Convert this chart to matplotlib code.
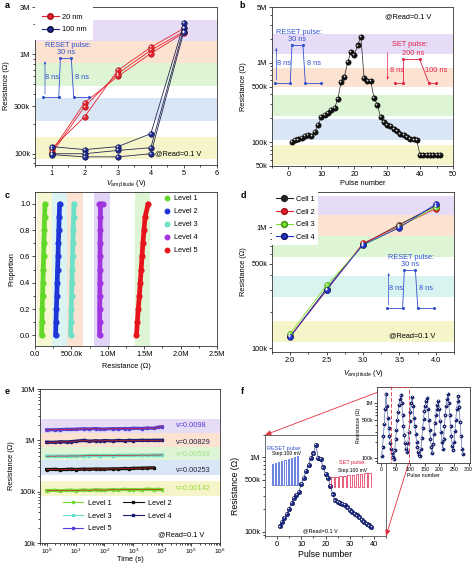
import numpy as np
import matplotlib
matplotlib.use("Agg")
import matplotlib.pyplot as plt
from matplotlib.lines import Line2D
from matplotlib.patches import ConnectionPatch, Rectangle
from matplotlib.transforms import ScaledTranslation, blended_transform_factory
from matplotlib.ticker import LogLocator, NullFormatter, MultipleLocator

plt.rcParams["font.family"] = ["Liberation Sans", "DejaVu Sans"]
plt.rcParams["font.size"] = 5.3
plt.rcParams["mathtext.fontset"] = "custom"
plt.rcParams["mathtext.rm"] = "Liberation Sans"
plt.rcParams["mathtext.it"] = "Liberation Sans:italic"
plt.rcParams["axes.linewidth"] = 0.6
plt.rcParams["axes.edgecolor"] = "#333333"

# ---- data ----
# a: resistance vs pulse amplitude
a_volt = [1, 2, 3, 4, 5]
a_20nm = [[105e3, 327e3, 600e3, 1.02e6, 1.65e6],
          [100e3, 298e3, 640e3, 1.10e6, 1.70e6],
          [112e3, 236e3, 690e3, 1.18e6, 1.83e6]]
a_100nm = [[118e3, 110e3, 118e3, 159e3, 2.05e6],
           [100e3, 100e3, 108e3, 115e3, 1.85e6],
           [98e3, 93e3, 93e3, 100e3, 1.70e6]]

# b: resistance vs pulse number (k-ohm)
b_pulse = list(range(1, 47))
b_res_k = [100, 105, 108, 113, 118, 124, 119, 134, 163, 207, 218, 235, 252, 270,
           347, 575, 664, 1010, 1370, 1250, 1640, 2100,
           634, 585, 585, 360, 296, 207, 179, 165, 159, 147, 137, 127, 122, 116,
           110, 108, 105,
           68, 68, 68, 68, 68, 68, 68]

# c: cumulative distribution of 5 levels (k-ohm)
c_prop = [0.0, 0.1, 0.2, 0.3, 0.4, 0.5, 0.6, 0.7, 0.8, 0.9, 1.0]
c_level1 = [91, 95, 100, 104, 109, 113, 118, 122, 127, 132, 137]
c_level2 = [283, 288, 294, 299, 305, 310, 316, 321, 327, 332, 338]
c_level3 = [489, 493, 498, 502, 507, 512, 516, 521, 526, 530, 535]
c_level4 = [887, 888, 889, 890, 891, 893, 894, 895, 897, 898, 900]
c_level5 = [1394, 1405, 1418, 1433, 1446, 1458, 1470, 1482, 1497, 1512, 1554]
c_level4_top = [878, 937]
c_labels = ["Level 1", "Level 2", "Level 3", "Level 4", "Level 5"]

# d: four cells
d_volt = [2.0, 2.5, 3.0, 3.5, 4.0]
d_cell1 = [125e3, 310e3, 725e3, 1.05e6, 1.50e6]
d_cell2 = [125e3, 300e3, 735e3, 1.02e6, 1.42e6]
d_cell3 = [132e3, 331e3, 705e3, 1.00e6, 1.47e6]
d_cell4 = [124e3, 305e3, 715e3, 0.99e6, 1.55e6]

# e: retention (k-ohm)
e_time = [1, 2, 3, 5, 7, 10, 20, 30, 50, 70, 100, 200, 300, 500, 700,
          1e3, 2e3, 3e3, 5e3, 7e3, 1e4]
e_level1 = [105, 106, 104, 106, 107, 105, 108, 106, 109, 108, 107, 110, 108,
            111, 109, 110, 109, 112, 110, 111, 110]
e_level2 = [270, 272, 268, 271, 274, 270, 275, 273, 277, 276, 275, 279, 278,
            283, 281, 285, 287, 290, 292]
e_level3 = [490, 492, 495, 493, 497, 495, 500, 505, 510, 503, 508, 505, 512,
            509, 513, 510, 515, 512, 518, 515, 520]
e_level4 = [920, 915, 940, 930, 945, 960, 1000, 960, 985, 970, 990, 975, 995,
            980, 1000, 990, 1000, 995, 1000, 1000, 1005]
e_level5 = [1600, 1610, 1620, 1640, 1630, 1650, 1680, 1660, 1700, 1670, 1660,
            1690, 1680, 1700, 1690, 1720, 1700, 1740, 1720, 1800, 1850]
e_nu = ["ν=0.00142", "ν=0.00253", "ν=0.00539", "ν=0.00829", "ν=0.0098"]
e_nu_y = [113e3, 255e3, 520e3, 920e3, 1.98e6]

# f: one cycle (k-ohm) and the long run shown in the inset
f_pulse = list(range(1, 40))
f_res_k = [117, 134, 152, 172, 204, 244, 285, 310, 340, 442, 533, 656, 800, 985,
           1130, 1480, 985, 950, 730, 605, 533, 410, 316, 262, 251, 244, 236,
           226, 212, 197, 184, 172, 165, 155, 144, 134, 126, 121, 116]
f_in_res_k = [110, 160, 250, 420, 800, 1450, 900, 550, 350, 250, 190, 150, 125, 105, 95,
              140, 220, 330, 500, 700, 950, 1200, 1400, 1000, 600, 380, 260, 190, 150, 130,
              190, 300, 480, 700, 1000, 1300, 900, 550, 380, 280, 200, 160, 130, 115, 108,
              150, 230, 350, 520, 720, 900, 1100, 1250, 800, 500, 330, 220, 160, 125,
              180, 280, 430, 620, 800, 950, 1100, 800, 480, 300, 200, 150,
              220, 380, 600, 900, 1200, 1500, 1000, 600, 380, 250, 170, 140,
              200, 320, 500, 800, 1100, 1350, 850, 450, 250, 150, 120]
f_in_pulse = np.arange(len(f_in_res_k)) * 3 + 1

# shaded resistance windows
PURPLE, ORANGE, GREEN = "#e6dcf6", "#fbe2d1", "#ddf5d4"
BLUE, YELLOW, TEAL = "#d8e6f6", "#f5f5c9", "#d9f3f0"
a_bands = [(89e3, 148e3, YELLOW), (215e3, 360e3, BLUE), (486e3, 810e3, GREEN),
           (810e3, 1.35e6, ORANGE), (1.35e6, 2.2e6, PURPLE)]
b_bands = [(51e3, 92e3, YELLOW), (106e3, 196e3, BLUE), (213e3, 394e3, GREEN),
           (500e3, 865e3, ORANGE), (1.3e6, 2.3e6, PURPLE)]
c_bands = [(23e3, 238e3, "#f6f6d2"), (238e3, 443e3, "#dcf3f3"), (443e3, 663e3, ORANGE),
           (809e3, 1.024e6, "#e2d4f7"), (1.367e6, 1.586e6, GREEN)]
d_bands = [(113e3, 168e3, YELLOW), (265e3, 394e3, TEAL), (568e3, 850e3, GREEN),
           (850e3, 1.26e6, ORANGE), (1.26e6, 1.8e6, PURPLE)]
e_bands = [(82e3, 164e3, YELLOW), (214e3, 413e3, BLUE), (413e3, 740e3, GREEN),
           (740e3, 1.37e6, ORANGE), (1.37e6, 2.65e6, PURPLE)]

RED = "#e8222c"
NAVY = "#1f2a8e"
PBLUE = "#3050d0"
PRED = "#e0204a"

fig = plt.figure(figsize=(4.74, 5.66), dpi=100)


def add_ax(l, t, r, b):
    return fig.add_axes([l / 474, 1 - b / 566, (r - l) / 474, (b - t) / 566])


def style(ax, size=5.3):
    ax.tick_params(which="both", direction="out", width=0.5, labelsize=size, pad=1.2)
    ax.tick_params(which="major", length=2.2)
    ax.tick_params(which="minor", length=1.3)


def log_y(ax, lo, hi, ticks, labels):
    ax.set_yscale("log")
    ax.set_ylim(lo, hi)
    ax.set_yticks(ticks, labels)
    ax.yaxis.set_minor_locator(LogLocator(subs=np.arange(2, 10)))
    ax.yaxis.set_minor_formatter(NullFormatter())


def sphere(ax, x, y, color, edge, ms, lc=None, lw=0.6, z=3):
    line, = ax.plot(x, y, "-", color=lc or color, lw=lw, marker="o", ms=ms,
                    mfc=color, mec=edge, mew=0.4, zorder=z)
    off = ScaledTranslation(-ms * 0.17 / 72, ms * 0.17 / 72, fig.dpi_scale_trans)
    ax.plot(x, y, ls="none", marker="o", ms=ms * 0.33, mfc="white", mec="none",
            alpha=0.85, transform=ax.transData + off, zorder=z + 0.1)
    return line


def reset_pulse(ax, x0, y0, w, h, color):
    X = lambda u: x0 + u * w
    Y = lambda v: y0 + v * h
    kw = dict(color=color, lw=0.6, transform=ax.transAxes, zorder=4)
    dots = dict(kw, marker="o", ms=1.2)
    ax.plot([X(0), X(0.336)], [Y(0), Y(0)], **dots)
    ax.plot([X(0.66), X(1)], [Y(0), Y(0)], **dots)
    ax.plot([X(0.371), X(0.609)], [Y(1), Y(1)], **dots)
    ax.plot([X(0.336), X(0.371)], [Y(0), Y(1)], **kw)
    ax.plot([X(0.609), X(0.66)], [Y(1), Y(0)], **kw)
    ax.annotate("", xy=(X(0.035), Y(1.0)), xytext=(X(0.035), Y(0)),
                xycoords="axes fraction",
                arrowprops=dict(arrowstyle="-|>,head_length=0.25,head_width=0.1",
                                color=color, lw=0.5))
    ax.text(X(0.03), Y(1.34), "RESET pulse:", color=color, transform=ax.transAxes,
            ha="left", va="center")
    ax.text(X(0.49), Y(1.15), "30 ns", color=color, transform=ax.transAxes,
            ha="center", va="center")
    ax.text(X(0.19), Y(0.5), "8 ns", color=color, transform=ax.transAxes,
            ha="center", va="center")
    ax.text(X(0.84), Y(0.5), "8 ns", color=color, transform=ax.transAxes,
            ha="center", va="center")


def bands(ax, spans, vertical=False):
    for lo, hi, c in spans:
        if vertical:
            ax.axvspan(lo, hi, color=c, lw=0, zorder=0)
        else:
            ax.axhspan(lo, hi, color=c, lw=0, zorder=0)


# ---------------- a ----------------
ax = add_ax(35, 7, 217, 165)
bands(ax, a_bands)
for r in a_20nm:
    sphere(ax, a_volt, r, RED, "#a0121a", 4.0, lc=RED)
for r in a_100nm:
    sphere(ax, a_volt, r, NAVY, "#0b1040", 4.0, lc="#2a2a55")
ax.set_xlim(0.5, 6)
ax.set_xticks(range(1, 7))
ax.xaxis.set_minor_locator(MultipleLocator(0.5))
log_y(ax, 77e3, 3e6, [1e5, 3e5, 1e6, 3e6], ["100k", "300k", "1M", "3M"])
style(ax)
ax.set_xlabel(r"$\mathit{V}_{\mathrm{amplitude}}$ (V)", labelpad=1)
ax.set_ylabel("Resistance (Ω)", labelpad=3)
h = [Line2D([], [], color=RED, lw=0.8, marker="o", ms=4, mfc=RED, mec="#a0121a"),
     Line2D([], [], color=NAVY, lw=0.8, marker="o", ms=4, mfc=NAVY, mec="#0b1040")]
ax.legend(h, ["20 nm", "100 nm"], loc="upper left", bbox_to_anchor=(0, 1),
          borderaxespad=0, frameon=True, fancybox=False, edgecolor="none",
          facecolor="white", framealpha=1, handlelength=2.3, borderpad=0.9,
          labelspacing=0.75, handletextpad=0.4)
ax.text(0.66, 0.07, "@Read=0.1 V", transform=ax.transAxes, va="center")
reset_pulse(ax, 0.046, 0.432, 0.252, 0.243, PBLUE)

# ---------------- b ----------------
ax = add_ax(272, 7, 453, 166)
bands(ax, b_bands)
sphere(ax, b_pulse, [v * 1e3 for v in b_res_k], "#111111", "#000000", 3.8, lc="#222222", lw=0.5)
ax.set_xlim(-5, 50)
ax.set_xticks(range(0, 51, 10))
ax.xaxis.set_minor_locator(MultipleLocator(5))
log_y(ax, 50e3, 5e6, [5e4, 1e5, 5e5, 1e6, 5e6], ["50k", "100k", "500k", "1M", "5M"])
style(ax)
ax.set_xlabel("Pulse number", labelpad=1.5)
ax.set_ylabel("Resistance (Ω)", labelpad=3)
ax.text(0.626, 0.939, "@Read=0.1 V", transform=ax.transAxes, va="center")
reset_pulse(ax, 0.015, 0.524, 0.256, 0.237, PBLUE)
# SET pulse sketch
kw = dict(color=PRED, lw=0.6, transform=ax.transAxes, zorder=4)
dots = dict(kw, marker="o", ms=1.2)
ax.plot([0.681, 0.721], [0.524, 0.524], **dots)
ax.plot([0.721, 0.721], [0.524, 0.671], **kw)
ax.plot([0.721, 0.816], [0.671, 0.671], **dots)
ax.plot([0.816, 0.866], [0.671, 0.524], **kw)
ax.plot([0.866, 0.906], [0.524, 0.524], **dots)
ax.annotate("", xy=(0.639, 0.524), xytext=(0.639, 0.73), xycoords="axes fraction",
            arrowprops=dict(arrowstyle="-|>,head_length=0.25,head_width=0.1",
                            color=PRED, lw=0.5))
ax.text(0.76, 0.765, "SET pulse:", color=PRED, transform=ax.transAxes, ha="center", va="center")
ax.text(0.779, 0.709, "200 ns", color=PRED, transform=ax.transAxes, ha="center", va="center")
ax.text(0.69, 0.6, "8 ns", color=PRED, transform=ax.transAxes, ha="center", va="center")
ax.text(0.905, 0.6, "100 ns", color=PRED, transform=ax.transAxes, ha="center", va="center")

# ---------------- c ----------------
ax = add_ax(35, 192, 217, 346)
bands(ax, c_bands, vertical=True)
c_colors = ["#62d82a", "#1e36d8", "#6fe0c8", "#a234e0", "#e8141c"]
c_data = [c_level1, c_level2, c_level3, c_level4, c_level5]
for vals, col in zip(c_data, c_colors):
    xs = [v * 1e3 for v in vals]
    ax.plot(xs, c_prop, "-", color=col, lw=3.4, solid_capstyle="round", zorder=3)
    ax.plot(xs, c_prop, "o", color=col, ms=3.4, zorder=3)
ax.plot([v * 1e3 for v in c_level4_top], [1.0, 1.0], "o", color=c_colors[3], ms=3.4, zorder=3)
ax.set_xlim(0, 2.5e6)
ax.set_xticks([0, 0.5e6, 1e6, 1.5e6, 2e6, 2.5e6],
              ["0.0", "500.0k", "1.0M", "1.5M", "2.0M", "2.5M"])
ax.xaxis.set_minor_locator(MultipleLocator(0.25e6))
ax.set_ylim(-0.08, 1.09)
ax.set_yticks(np.arange(0, 1.01, 0.2), ["0.0", "0.2", "0.4", "0.6", "0.8", "1.0"])
ax.yaxis.set_minor_locator(MultipleLocator(0.1))
style(ax)
ax.set_xlabel("Resistance (Ω)", labelpad=4)
ax.set_ylabel("Proportion", labelpad=3)
h = [Line2D([], [], ls="none", marker="o", color=c, ms=3.2) for c in c_colors]
ax.legend(h, c_labels, loc="upper left", bbox_to_anchor=(0.69, 1.0), frameon=False,
          borderaxespad=0, handlelength=1.0, handletextpad=0.4, labelspacing=0.8)

# ---------------- d ----------------
ax = add_ax(272, 192, 454, 352)
bands(ax, d_bands)
d_style = [("#222222", "#222222", d_cell1), (RED, "#a0121a", d_cell2),
           ("#7ae030", "#3c8a10", d_cell3), ("#2233d0", "#0b1060", d_cell4)]
for col, edge, vals in d_style:
    sphere(ax, d_volt, vals, col, edge, 4.2, lc=col, lw=0.6)
ax.set_xlim(1.75, 4.25)
ax.set_xticks([2.0, 2.5, 3.0, 3.5, 4.0], ["2.0", "2.5", "3.0", "3.5", "4.0"])
ax.xaxis.set_minor_locator(MultipleLocator(0.25))
log_y(ax, 93e3, 1.95e6, [1e5, 5e5, 1e6], ["100k", "500k", "1M"])
style(ax)
ax.set_xlabel(r"$\mathit{V}_{\mathrm{amplitude}}$ (V)", labelpad=3)
ax.set_ylabel("Resistance (Ω)", labelpad=3)
h = [Line2D([], [], color=c, lw=0.8, marker="o", ms=4.2, mfc=c, mec=e)
     for c, e, _ in d_style]
ax.legend(h, ["Cell 1", "Cell 2", "Cell 3", "Cell 4"], loc="upper left", bbox_to_anchor=(0, 1),
          borderaxespad=0, frameon=True, fancybox=False, edgecolor="none",
          facecolor="white", framealpha=1, handlelength=2.3, borderpad=0.5,
          labelspacing=0.75, handletextpad=0.4)
ax.text(0.641, 0.10, "@Read=0.1 V", transform=ax.transAxes, va="center")
reset_pulse(ax, 0.632, 0.277, 0.256, 0.235, PBLUE)

# ---------------- e ----------------
ax = add_ax(40, 389, 220, 543)
bands(ax, e_bands)
e_colors = ["#72d836", "#111111", "#66dcc8", "#1c1c70", "#5a3ed8"]
e_data = [e_level1, e_level2, e_level3, e_level4, e_level5]
for vals, col in zip(e_data, e_colors):
    t = e_time[:len(vals)]
    r = [v * 1e3 for v in vals]
    ax.plot(t, r, "-", color=col, lw=2.3, marker="s", ms=1.6, zorder=2)
    ax.plot(t, r, "-", color="#c8241e", lw=0.5, zorder=3)
nu_cols = ["#9ad83a", "#222244", "#a8e08a", "#222244", "#5a3ed8"]
for s, y, c in zip(e_nu, e_nu_y, nu_cols):
    ax.text(2.8e4, y, s, color=c, va="center", ha="left")
ax.set_xscale("log")
ax.set_xlim(0.59, 1e6)
ax.set_xticks([10.0 ** k for k in range(7)],
              [r"$10^{%d}$" % k for k in range(7)])
ax.xaxis.set_minor_locator(LogLocator(subs=np.arange(2, 10)))
ax.xaxis.set_minor_formatter(NullFormatter())
log_y(ax, 1e4, 1e7, [1e4, 1e5, 1e6, 1e7], ["10k", "100k", "1M", "10M"])
style(ax)
ax.tick_params(axis="x", labelsize=4.6, pad=0.5)
ax.set_xlabel("Time (s)", labelpad=0.3)
ax.set_ylabel("Resistance (Ω)", labelpad=3)
h = [Line2D([], [], color=c, lw=0.8, marker="s", ms=1.6) for c in e_colors]
order = [0, 2, 4, 1, 3]
ax.legend([h[i] for i in order], [c_labels[i] for i in order], loc="upper left",
          bbox_to_anchor=(0.11, 0.30), ncol=2, frameon=False, borderaxespad=0,
          handlelength=2.8, handletextpad=0.6, columnspacing=1.6, labelspacing=0.75)
ax.text(0.657, 0.051, "@Read=0.1 V", transform=ax.transAxes, va="center")

# ---------------- f ----------------
axf = add_ax(265, 435, 386, 536)
sphere(axf, f_pulse, [v * 1e3 for v in f_res_k], "#1c2a8a", "#0a1040", 3.2, lc="#3b4aa0", lw=0.5)
axf.set_xlim(-5, 45)
axf.set_xticks(range(0, 41, 10))
axf.xaxis.set_minor_locator(MultipleLocator(5))
log_y(axf, 87e3, 2.0e6, [1e5, 5e5, 1e6], ["100k", "500k", "1M"])
style(axf)
for sp in axf.spines.values():
    sp.set_color("#555555")
axf.set_xlabel("Pulse number", fontsize=6.3, labelpad=1.5)
axf.set_ylabel("Resistance (Ω)", fontsize=6.3, labelpad=3)
axf.text(0.317, 0.055, "@Read=0.1 V", transform=axf.transAxes, va="center", fontsize=4)
# RESET pulse train
tr = axf.transAxes
axf.text(0.014, 0.864, "RESET pulse:", color=PBLUE, transform=tr, fontsize=4, va="center")
axf.text(0.055, 0.813, "Step:100 mV", color="black", transform=tr, fontsize=3.6, va="center")
xs, ys = [], []
for i in range(9):
    x0 = 0.055 + i * 0.0265
    top = 0.716 + i * 0.0092
    xs += [x0, x0, x0 + 0.009, x0 + 0.009, x0 + 0.0265]
    ys += [0.505, top, top, 0.505, 0.505]
axf.plot(xs[:-1], ys[:-1], color=PBLUE, lw=0.5, transform=tr, zorder=4)
# SET pulse train
axf.text(0.61, 0.725, "SET pulse:", color=PRED, transform=tr, fontsize=4, va="center")
axf.text(0.603, 0.644, "Step:100 mV", color="black", transform=tr, fontsize=3.6, va="center")
xs, ys = [], []
for i in range(10):
    x0 = 0.545 + i * 0.034
    top = 0.58 + i * 0.0053
    xs += [x0, x0, x0 + 0.022, x0 + 0.022, x0 + 0.034]
    ys += [0.482, top, top, 0.482, 0.482]
axf.plot(xs[:-1], ys[:-1], color=PRED, lw=0.5, transform=tr, zorder=4)

axi = add_ax(377, 387, 470, 463)
axi.set_zorder(5)
axi.patch.set_facecolor("white")
sphere(axi, f_in_pulse, [v * 1e3 for v in f_in_res_k], "#1c2a8a", "#0a1040", 2.3,
       lc="#3b4aa0", lw=0.4)
axi.set_xlim(-15, 305)
axi.set_xticks(range(0, 301, 50))
log_y(axi, 82e3, 1.98e6, [1e5, 5e5, 1e6], ["100k", "500k", "1M"])
style(axi, size=3.8)
axi.tick_params(which="both", pad=0.6)
axi.set_xlabel("Pulse number", fontsize=3.8, labelpad=0.5)
axi.set_ylabel("Resistance (Ω)", fontsize=3.8, labelpad=0.5)
bt = blended_transform_factory(axi.transData, axi.transAxes)
axi.add_patch(Rectangle((34, 0.0), 60, 1.0, transform=bt, fill=False,
                        ec="#e04a5a", lw=0.7, ls=(0, (4, 2)), zorder=6))
con1 = ConnectionPatch(xyA=(34, 1.0), coordsA=bt, xyB=(0.0, 1.0), coordsB=axf.transAxes,
                       arrowstyle="-|>,head_length=0.35,head_width=0.15", color="#e0303a", lw=0.6)
con2 = ConnectionPatch(xyA=(94, 0.0), coordsA=bt, xyB=(1.0, 0.0), coordsB=axf.transAxes,
                       arrowstyle="-|>,head_length=0.35,head_width=0.15", color="#e0303a", lw=0.6)
fig.add_artist(con1)
fig.add_artist(con2)

# panel letters
for s, (x, y) in zip("abcdef", [(7, 6), (242, 6), (7, 195), (243, 195), (7, 391), (242, 391)]):
    fig.text(x / 474, 1 - y / 566, s, fontsize=6.5, fontweight="bold", va="center", ha="center")

fig.savefig("out.png", dpi=100)
